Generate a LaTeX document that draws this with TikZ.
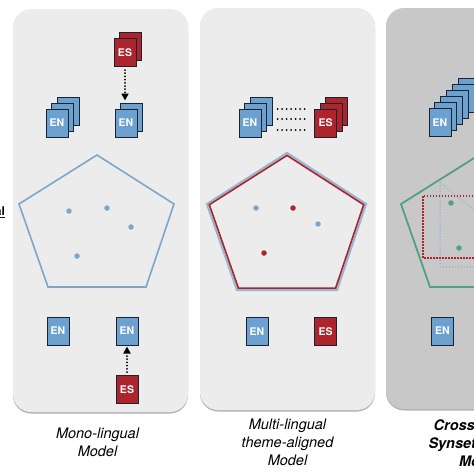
\documentclass[tikz,border=0pt]{standalone}
\usepackage{fontspec}
\setmainfont{TeX Gyre Heros}
\usepackage{tikz}
\usetikzlibrary{arrows.meta,calc}
\definecolor{panelgray}{RGB}{236,236,236}
\definecolor{paneldark}{RGB}{200,200,200}
\definecolor{enblue}{RGB}{108,160,207}
\definecolor{esred}{RGB}{172,36,44}
\definecolor{docline}{RGB}{25,35,50}
\definecolor{pentblue}{RGB}{125,166,200}
\definecolor{synsetgreen}{RGB}{82,160,128}

\begin{document}
\begin{tikzpicture}[x=1pt, y=-1pt,
    panel/.style={fill=panelgray, rounded corners=18pt},
    shadow/.style={fill=black!30, rounded corners=18pt},
    sheet/.style={draw=docline, line width=1pt, minimum width=22pt, minimum height=28pt, inner sep=0pt, text=white, font=\bfseries\fontsize{10.5}{10.5}\selectfont},
    ensheet/.style={sheet, fill=enblue},
    essheet/.style={sheet, fill=esred},
    dotarrow/.style={line width=2pt, line cap=round, dash pattern=on 0pt off 3.2pt, -{Triangle[width=7pt,length=7pt]}},
    dotline/.style={line width=2pt, line cap=round, dash pattern=on 0pt off 4.5pt},
    pt/.style={circle, inner sep=0pt, minimum size=5.5pt},
    caption/.style={align=center, font=\itshape\fontsize{14.5}{18}\selectfont}
]
    \useasboundingbox (0,0) rectangle (474,474);
    \clip (0,0) rectangle (474,474);

    % panels
    \fill[shadow] (13,10.5) rectangle (188,413.5);
    \fill[panel] (13,9) rectangle (188,412);
    \fill[shadow] (200,9.5) rectangle (375,411.5);
    \fill[panel] (200,8) rectangle (375,410);
    \fill[shadow] (386,9.5) rectangle (561,410.5);
    \fill[panel, fill=paneldark] (386,8) rectangle (561,409);

    \node[anchor=base east, font=\bfseries\fontsize{12}{12}\selectfont] (cut) at (8.5,215.5) {\underline{al}};

    % mono-lingual
    \draw[pentblue, line width=1.6pt, line join=miter] (97,155) -- (174,204) -- (146,287) -- (48,287) -- (19,204) -- cycle;
    \node[pt, fill=pentblue] (m1) at (69,211) {};
    \node[pt, fill=pentblue] (m2) at (107,208) {};
    \node[pt, fill=pentblue] (m3) at (131,227) {};
    \node[pt, fill=pentblue] (m4) at (77,256) {};

    \foreach \i in {2,1}
        \node[ensheet] (enA-\i) at ($(57,123)+(5.5*\i,-6*\i)$) {};
    \node[ensheet] (enA) at (57,123) {EN};
    \node[ensheet] (enB-1) at ($(126,123)+(5.5,-6)$) {};
    \node[ensheet] (enB) at (126,123) {EN};
    \node[essheet] (esA-1) at ($(125,52.5)+(5.5,-6)$) {};
    \node[essheet] (esA) at (125,52.5) {ES};
    \draw[dotarrow, shorten <=3pt, shorten >=2pt] (esA.south) -- (esA.south |- enB-1.north);

    \node[ensheet] (enC) at (58,331) {EN};
    \node[ensheet] (enD) at (127,331) {EN};
    \node[essheet] (esC) at (127,389.5) {ES};
    \draw[dotarrow, shorten <=3pt, shorten >=1pt] (esC) -- (enD);

    \node[caption] (capA) at (97.5,442) {Mono-lingual\\Model};

    % multi-lingual theme-aligned
    \draw[pentblue!80, line width=2.2pt, line join=miter] (287,153) -- (366,204) -- (337,290) -- (237,290) -- (207,204) -- cycle;
    \draw[esred, line width=1.6pt, line join=miter] (287,155.4) -- (363.7,204.7) -- (335.6,288.1) -- (238.4,288.1) -- (209.3,204.7) -- cycle;
    \node[pt, fill=pentblue] (t1) at (256,208) {};
    \node[pt, fill=esred] (t2) at (293,208) {};
    \node[pt, fill=pentblue] (t3) at (318,224) {};
    \node[pt, fill=esred] (t4) at (264,253) {};

    \foreach \i in {2,1}
        \node[ensheet] (enE-\i) at ($(250,123)+(5.5*\i,-6*\i)$) {};
    \node[ensheet] (enE) at (250,123) {EN};
    \foreach \i in {2,1}
        \node[essheet] (esE-\i) at ($(325.5,123)+(5.5*\i,-6*\i)$) {};
    \node[essheet] (esE) at (325.5,123) {ES};
    \foreach \dy in {-14,-4,7}
        \draw[dotline, shorten <=5pt, shorten >=7pt] ($(enE-2.east |- enE.center)+(0,\dy)$) -- ($(esE.west)+(0,\dy)$);

    \node[ensheet] (enF) at (257,331.5) {EN};
    \node[essheet] (esF) at (325.5,331.5) {ES};

    \node[caption] (capB) at (287.5,442) {Multi-lingual\\theme-aligned\\Model};

    % cross-lingual synset-aligned
    \draw[synsetgreen, line width=1.8pt, line join=miter] (479,155) -- (556,204) -- (528,287) -- (430,287) -- (401,204) -- cycle;
    \draw[pentblue!80, line width=1.5pt, dash pattern=on 1pt off 2pt] (440,267) -- (440,183) -- (520,246);
    \draw[pentblue!80, line width=1.5pt, dash pattern=on 1pt off 2pt] (440,267) -- (520,267);
    \draw[esred, line width=2pt, dash pattern=on 1.5pt off 1.5pt] (423,196) rectangle (530,258);
    \node[pt, fill=synsetgreen] (s1) at (451,203) {};
    \node[pt, fill=synsetgreen] (s2) at (459,248) {};

    \foreach \i in {5,4,...,1}
        \node[ensheet] (enG-\i) at ($(440,122.5)+(5.8*\i,-6*\i)$) {};
    \node[ensheet] (enG) at (440,122.5) {EN};
    \node[ensheet] (enH) at (442.5,331) {EN};

    \node[caption, font=\bfseries\itshape\fontsize{14.5}{18}\selectfont] (capC) at (480,443) {Cross-lingual\\Synset-aligned\\Model};
\end{tikzpicture}
\end{document}
